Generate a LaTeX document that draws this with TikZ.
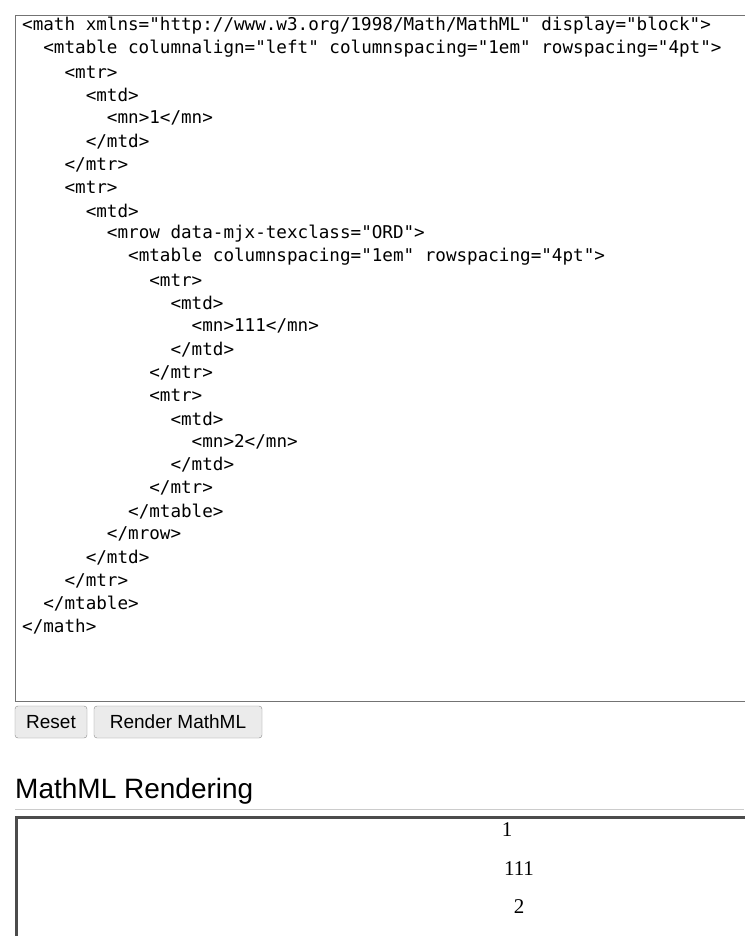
\documentclass[tikz,border=0pt]{standalone}
\usepackage{fontspec}
\newfontfamily\monof{DejaVu Sans Mono}
\newfontfamily\sansf{Liberation Sans}
\newfontfamily\seriff{Liberation Serif}
\begin{document}
\begin{tikzpicture}[x=1pt,y=-1pt,
  code/.style={anchor=west,inner sep=0pt,font=\monof\fontsize{17.6}{20}\selectfont},
  btn/.style={draw=black!45,fill=black!8,rounded corners=3pt,inner sep=0pt,font=\sansf\fontsize{19}{22}\selectfont},
  num/.style={inner sep=0pt,font=\seriff\fontsize{21}{24}\selectfont}]
\useasboundingbox (0,0) rectangle (744,936);
\fill[white] (0,0) rectangle (744,936);
\draw[black!55,line width=1pt] (15.5,15.5) -- (15.5,701.5) -- (750,701.5) (15.5,15.5) -- (750,15.5);
\foreach \t [count=\i from 0] in {
{<math xmlns="http://www.w3.org/1998/Math/MathML" display="block">},
{\ \ <mtable columnalign="left" columnspacing="1em" rowspacing="4pt">},
{\ \ \ \ <mtr>},
{\ \ \ \ \ \ <mtd>},
{\ \ \ \ \ \ \ \ <mn>1</mn>},
{\ \ \ \ \ \ </mtd>},
{\ \ \ \ </mtr>},
{\ \ \ \ <mtr>},
{\ \ \ \ \ \ <mtd>},
{\ \ \ \ \ \ \ \ <mrow data-mjx-texclass="ORD">},
{\ \ \ \ \ \ \ \ \ \ <mtable columnspacing="1em" rowspacing="4pt">},
{\ \ \ \ \ \ \ \ \ \ \ \ <mtr>},
{\ \ \ \ \ \ \ \ \ \ \ \ \ \ <mtd>},
{\ \ \ \ \ \ \ \ \ \ \ \ \ \ \ \ <mn>111</mn>},
{\ \ \ \ \ \ \ \ \ \ \ \ \ \ </mtd>},
{\ \ \ \ \ \ \ \ \ \ \ \ </mtr>},
{\ \ \ \ \ \ \ \ \ \ \ \ <mtr>},
{\ \ \ \ \ \ \ \ \ \ \ \ \ \ <mtd>},
{\ \ \ \ \ \ \ \ \ \ \ \ \ \ \ \ <mn>2</mn>},
{\ \ \ \ \ \ \ \ \ \ \ \ \ \ </mtd>},
{\ \ \ \ \ \ \ \ \ \ \ \ </mtr>},
{\ \ \ \ \ \ \ \ \ \ </mtable>},
{\ \ \ \ \ \ \ \ </mrow>},
{\ \ \ \ \ \ </mtd>},
{\ \ \ \ </mtr>},
{\ \ </mtable>},
{</math>}}
  \node[code] (l\i) at (22,{26+23.1*\i}) {\obeyspaces\t};
\node[btn,minimum width=72pt,minimum height=32pt] (reset) at (51,722) {Reset};
\node[btn,minimum width=168pt,minimum height=32pt] (render) at (178,722) {Render MathML};
\node[anchor=base west,inner sep=0pt,font=\sansf\fontsize{28}{32}\selectfont] (head) at (15,798) {MathML Rendering};
\draw[black!20,line width=1pt] (15,809) -- (744,809);
\draw[black!70,line width=3pt] (16.5,940) -- (16.5,817.5) -- (750,817.5);
\node[num] (n1) at (507,830) {1};
\node[num] (n2) at (519,869) {111};
\node[num] (n3) at (519,907) {2};
\end{tikzpicture}
\end{document}
